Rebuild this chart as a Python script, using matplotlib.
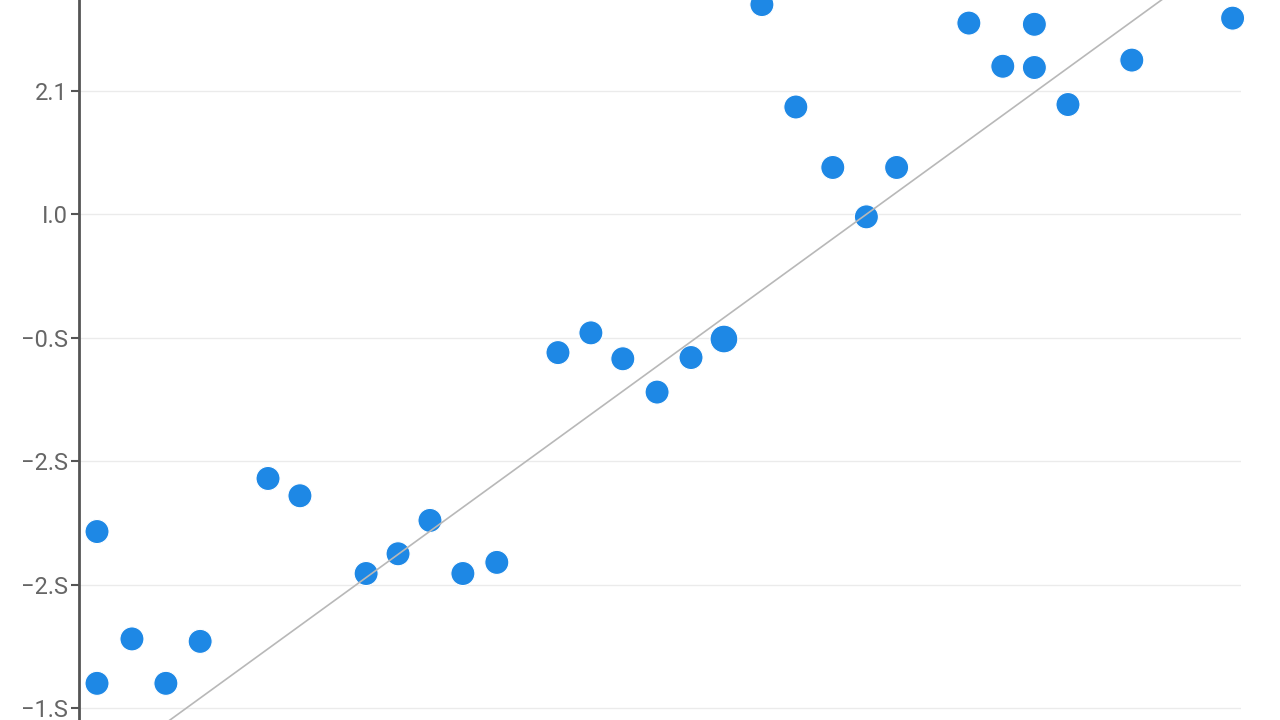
import numpy as np
import matplotlib.pyplot as plt

# datos (x en unidades arbitrarias, y en niveles de rejilla)
x_vals = [0.00, 0.00, 1.04, 2.05, 3.07, 5.09, 6.04, 8.01, 8.96, 9.91,
          10.89, 11.90, 13.72, 14.70, 15.65, 16.67, 17.68, 18.66, 19.79,
          20.80, 21.90, 22.90, 23.80, 25.95, 26.96, 27.90, 27.90, 28.90, 30.80,
          33.80]
y_vals = [1.43, 0.20, 0.56, 0.20, 0.54, 1.86, 1.72, 1.09, 1.25, 1.52,
          1.09, 1.18, 2.88, 3.04, 2.83, 2.56, 2.84, 2.99, 5.70,
          4.87, 4.38, 3.98, 4.38, 5.55, 5.20, 5.54, 5.19, 4.89, 5.25,
          5.59]

# linea de tendencia (extremos)
trend_x = [-0.6, 34.1]
trend_y = [-0.645, 6.215]

# ticks del eje y (etiquetas tal como aparecen)
tick_pos = [0, 1, 2, 3, 4, 5]
tick_labels = ['\u22121.S', '\u22122.S', '\u22122.S', '\u22120.S', 'I.0', '2.1']

fig = plt.figure(figsize=(12.8, 7.2), dpi=100)
ax = fig.add_axes([79 / 1280, 0, (1241 - 79) / 1280, 1])

# un punto algo mayor (el de x=18.66)
sizes = [300] * len(x_vals)
sizes[17] = 400

ax.scatter(x_vals, y_vals, s=sizes, color='#1E88E5', edgecolor='white',
           linewidth=0.8, zorder=3, clip_on=False)
ax.plot(trend_x, trend_y, color='#b8b8b8', linewidth=1.2, zorder=4)

ax.set_xlim(-0.536, 34.05)
ax.set_ylim(-0.097, 5.737)

ax.set_yticks(tick_pos)
ax.set_yticklabels(tick_labels, fontsize=17, color='#666666', family='Roboto')
ax.tick_params(axis='y', length=6, width=1.5, color='#555555', pad=2)
ax.set_xticks([])
ax.grid(axis='y', color='#ebebeb', linewidth=1)
ax.set_axisbelow(True)

for side in ['top', 'right', 'bottom']:
    ax.spines[side].set_visible(False)
ax.spines['left'].set_color('#555555')
ax.spines['left'].set_linewidth(2)

fig.savefig('out.png', dpi=100)
plt.close()
